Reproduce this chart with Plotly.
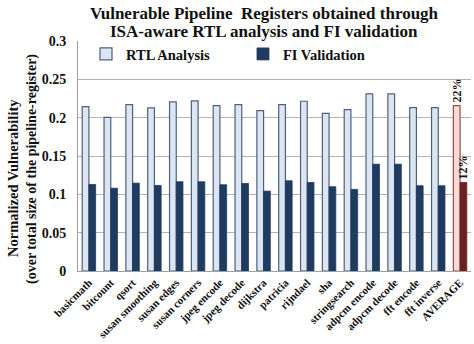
import plotly.graph_objects as go

# Benchmarks (MiBench) plus the overall average
benchmarks = [
    "basicmath", "bitcount", "qsort", "susan smoothing", "susan edges",
    "susan corners", "jpeg encode", "jpeg decode", "dijkstra", "patricia",
    "rijndael", "sha", "stringsearch", "adpcm encode", "adpcm decode",
    "fft encode", "fft inverse", "AVERAGE",
]

# Normalized vulnerability per benchmark
rtl_analysis = [
    0.2145, 0.2005, 0.2170, 0.2127, 0.2205, 0.2219, 0.2158, 0.2170, 0.2092,
    0.2170, 0.2214, 0.2057, 0.2105, 0.2310, 0.2310, 0.2131, 0.2131, 0.2158,
]
fi_validation = [
    0.1129, 0.1080, 0.1146, 0.1116, 0.1164, 0.1164, 0.1125, 0.1142, 0.1042,
    0.1177, 0.1155, 0.1099, 0.1064, 0.1393, 0.1393, 0.1112, 0.1112, 0.1155,
]

y_ticks = [0, 0.05, 0.1, 0.15, 0.2, 0.25, 0.3]
y_tick_labels = ["0", "0.05", "0.1", "0.15", "0.2", "0.25", "0.3"]

title_lines = ["Vulnerable Pipeline&nbsp; Registers obtained through",
               "ISA-aware RTL analysis and FI validation"]
y_title_lines = ["Normalized Vulnerability",
                 "(over total size of the pipeline-register)"]

SERIF = "Times New Roman, Liberation Serif, serif"

# Plot-area geometry (pixels) used to place the free-standing texts
W, H = 474, 344
L, R, T, B = 78, 3, 41, 73
PW, PH = W - L - R, H - T - B


def px_x(x):
    return (x - L) / PW


def px_y(y):
    return (H - B - y) / PH


is_avg = [b == "AVERAGE" for b in benchmarks]

rtl_fill = ["#f6dad9" if a else "#dce6f2" for a in is_avg]
rtl_edge = ["#a04a4a" if a else "#4f607c" for a in is_avg]
fi_fill = ["#6a2020" if a else "#1f3b60" for a in is_avg]

rtl_text = [f"{v:.0%}" if a else "" for v, a in zip(rtl_analysis, is_avg)]
fi_text = [f"{v:.0%}" if a else "" for v, a in zip(fi_validation, is_avg)]

label_font = dict(family=SERIF, size=12, color="#111", weight="bold")

fig = go.Figure()
fig.add_trace(go.Bar(
    name="RTL Analysis", x=benchmarks, y=rtl_analysis,
    marker=dict(color=rtl_fill, line=dict(color=rtl_edge, width=1.2)),
    text=rtl_text, textposition="outside", textangle=-90,
    textfont=label_font, cliponaxis=False, constraintext="none",
))
fig.add_trace(go.Bar(
    name="FI Validation", x=benchmarks, y=fi_validation,
    marker=dict(color=fi_fill, line=dict(color=fi_fill, width=0.8)),
    text=fi_text, textposition="outside", textangle=-90,
    textfont=label_font, cliponaxis=False, constraintext="none",
))

# Two-line chart title, one annotation per line
title_font = dict(family=SERIF, size=17, weight="bold", color="#111")
for line, yc in zip(title_lines, [13.5, 31]):
    fig.add_annotation(
        text=line, xref="paper", yref="paper",
        x=px_x(264), y=px_y(yc), xanchor="center", yanchor="middle",
        showarrow=False, font=title_font,
    )

# Y-axis title, one rotated line per annotation
fig.add_annotation(
    text=y_title_lines[0], xref="paper", yref="paper",
    x=px_x(13), y=px_y(178), xanchor="center", yanchor="middle",
    textangle=-90, showarrow=False,
    font=dict(family=SERIF, size=14.5, weight="bold", color="#111"),
)
fig.add_annotation(
    text=y_title_lines[1], xref="paper", yref="paper",
    x=px_x(32), y=px_y(169), xanchor="center", yanchor="middle",
    textangle=-90, showarrow=False,
    font=dict(family=SERIF, size=14, weight="bold", color="#111"),
)

fig.update_layout(
    width=W, height=H,
    margin=dict(l=L, r=R, t=T, b=B),
    paper_bgcolor="white", plot_bgcolor="white",
    barmode="group", bargap=0.385, bargroupgap=0,
    font=dict(family=SERIF, color="#111"),
    legend=dict(
        orientation="h", x=px_x(86), xanchor="left", y=px_y(54), yanchor="middle",
        font=dict(family=SERIF, size=14.5, weight="bold", color="#111"),
        entrywidth=112, entrywidthmode="pixels",
        bgcolor="rgba(0,0,0,0)", traceorder="normal",
    ),
    showlegend=True,
)

fig.update_xaxes(
    tickangle=-45, automargin=False,
    tickfont=dict(family=SERIF, size=11, weight="bold", color="#111"),
    showline=True, linecolor="#a0a0a0", linewidth=1,
    ticks="", showgrid=False,
)
fig.update_yaxes(
    range=[0, 0.3], tickvals=y_ticks, ticktext=y_tick_labels,
    automargin=False,
    tickfont=dict(family=SERIF, size=14, weight="bold", color="#111"),
    showgrid=True, gridcolor="#b4b4b4", gridwidth=1,
    showline=True, linecolor="#a0a0a0", linewidth=1,
    zeroline=False, ticks="", ticklabelstandoff=8,
)

fig.write_html("out.html")
